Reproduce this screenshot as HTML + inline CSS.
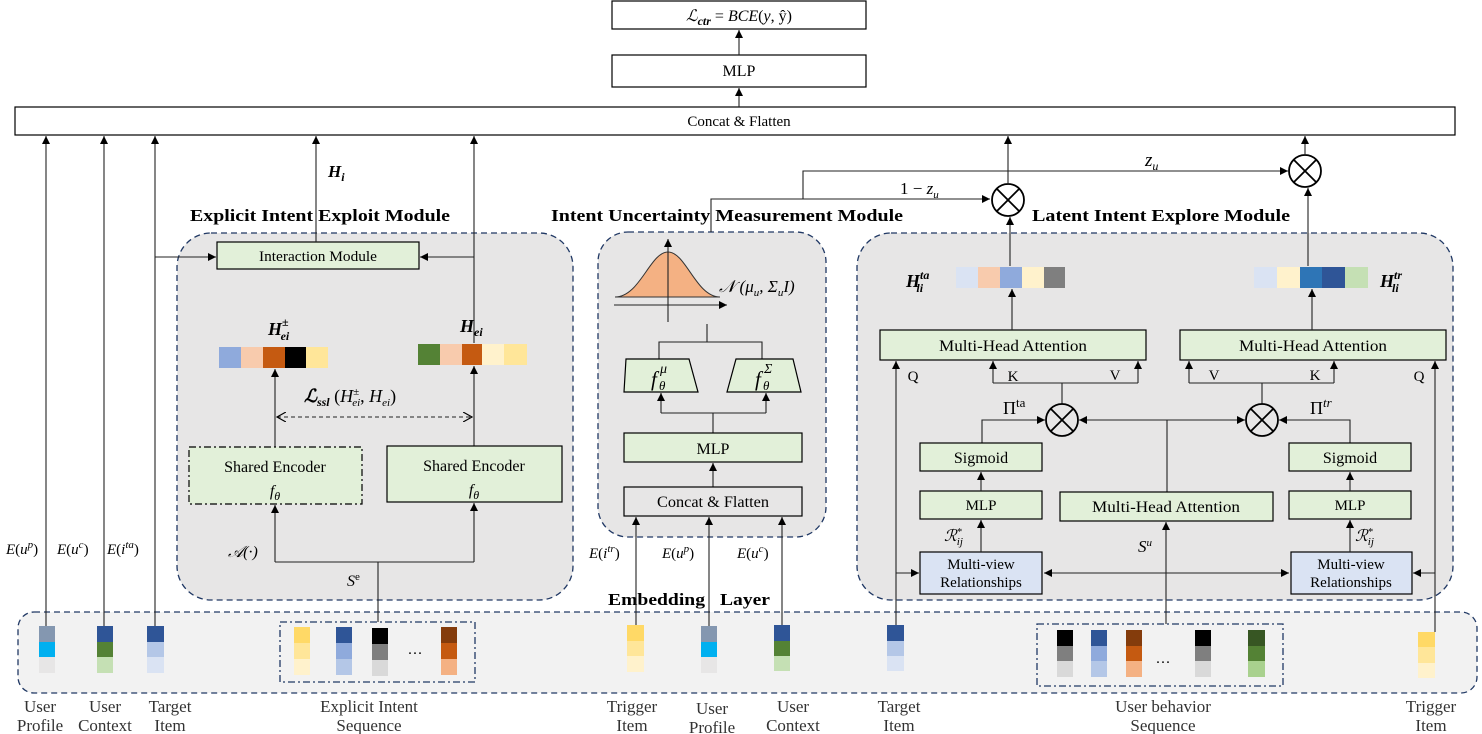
<!DOCTYPE html>
<html><head><meta charset="utf-8"><style>
html,body{margin:0;padding:0;background:#fff;}
svg{display:block;font-family:"Liberation Serif",serif;}
.b{fill:#e2f0d9;stroke:#000;stroke-width:1.2}
.w{fill:#fff;stroke:#000;stroke-width:1.2}
.l{stroke:#222;stroke-width:1.1;fill:none}
.mod{fill:#e7e6e6;stroke:#203864;stroke-width:1.3;stroke-dasharray:6 4}
.t{font-size:16px;text-anchor:middle}
.s{font-size:15px;text-anchor:middle}
.ti{font-size:17px;font-weight:bold}
.m{font-style:italic}
</style></head><body>
<svg width="1482" height="734" viewBox="0 0 1482 734" xmlns="http://www.w3.org/2000/svg">
<defs>
<marker id="a" markerWidth="8" markerHeight="8" refX="8" refY="4" orient="auto" markerUnits="userSpaceOnUse"><path d="M0,0 L8,4 L0,8 z" fill="#000"/></marker>
<marker id="as" markerWidth="8" markerHeight="8" refX="0" refY="4" orient="auto" markerUnits="userSpaceOnUse"><path d="M8,0 L0,4 L8,8 z" fill="#000"/></marker>
<marker id="o" markerWidth="10" markerHeight="10" refX="9" refY="5" orient="auto" markerUnits="userSpaceOnUse"><path d="M0,0 L9,5 L0,10" fill="none" stroke="#000" stroke-width="1.2"/></marker>
<marker id="os" markerWidth="10" markerHeight="10" refX="1" refY="5" orient="auto" markerUnits="userSpaceOnUse"><path d="M10,0 L1,5 L10,10" fill="none" stroke="#000" stroke-width="1.2"/></marker>
</defs>

<!-- top -->
<rect class="w" x="612" y="1" width="254" height="28"/>
<text x="739" y="21" class="t" font-size="17"><tspan class="m">ℒ</tspan><tspan class="m" font-weight="bold" font-size="12" dy="4">ctr</tspan><tspan dy="-4"> = </tspan><tspan class="m">BCE</tspan>(<tspan class="m">y</tspan>, <tspan>ŷ</tspan>)</text>
<rect class="w" x="612" y="55" width="254" height="32"/>
<text x="739" y="76" class="t">MLP</text>
<line class="l" x1="739" y1="55" x2="739" y2="30" marker-end="url(#a)"/>
<rect class="w" x="15" y="107" width="1440" height="28"/>
<text x="739" y="126" class="s">Concat &amp; Flatten</text>
<line class="l" x1="739" y1="107" x2="739" y2="88" marker-end="url(#a)"/>

<!-- embedding layer -->
<rect x="18" y="612" width="1459" height="81" rx="16" fill="#f2f2f2" stroke="#203864" stroke-width="1.3" stroke-dasharray="6 4"/>
<text x="608" y="605" class="ti" textLength="97" lengthAdjust="spacingAndGlyphs">Embedding</text>
<text x="720" y="605" class="ti" textLength="50" lengthAdjust="spacingAndGlyphs">Layer</text>

<!-- modules -->
<rect class="mod" x="177" y="233" width="396" height="367" rx="34"/>
<rect class="mod" x="598" y="232" width="228" height="305" rx="30"/>
<rect class="mod" x="857" y="233" width="596" height="367" rx="34"/>
<text x="190" y="221" class="ti" textLength="260" lengthAdjust="spacingAndGlyphs">Explicit Intent Exploit Module</text>
<text x="551" y="221" class="ti" textLength="352" lengthAdjust="spacingAndGlyphs">Intent Uncertainty Measurement Module</text>
<text x="1032" y="221" class="ti" textLength="258" lengthAdjust="spacingAndGlyphs">Latent Intent Explore Module</text>

<!-- long arrows to concat -->
<line class="l" x1="46" y1="626" x2="46" y2="136" marker-end="url(#a)"/>
<line class="l" x1="104" y1="626" x2="104" y2="136" marker-end="url(#a)"/>
<line class="l" x1="155" y1="626" x2="155" y2="136" marker-end="url(#a)"/>
<text x="6" y="554" font-size="15"><tspan class="m">E</tspan>(<tspan class="m">u</tspan><tspan class="m" font-size="11" dy="-6">p</tspan><tspan dy="6">)</tspan></text>
<text x="57" y="554" font-size="15"><tspan class="m">E</tspan>(<tspan class="m">u</tspan><tspan class="m" font-size="11" dy="-6">c</tspan><tspan dy="6">)</tspan></text>
<text x="107" y="554" font-size="15"><tspan class="m">E</tspan>(<tspan class="m">i</tspan><tspan class="m" font-size="11" dy="-6">ta</tspan><tspan dy="6">)</tspan></text>

<!-- explicit module -->
<rect class="b" x="217" y="242" width="202" height="27"/>
<text x="318" y="261" class="s" textLength="118" lengthAdjust="spacingAndGlyphs">Interaction Module</text>
<line class="l" x1="316" y1="242" x2="316" y2="136" marker-end="url(#a)"/>
<text x="328" y="177" font-size="17" font-weight="bold" class="m">H<tspan font-size="12" dy="4">i</tspan></text>
<polyline class="l" points="155,257 216,257" marker-end="url(#a)"/>
<line class="l" x1="474" y1="343" x2="474" y2="136" marker-end="url(#a)"/>
<line class="l" x1="474" y1="257" x2="420" y2="257" marker-end="url(#a)"/>
<text x="268" y="335" font-size="18" font-weight="bold" class="m">H<tspan font-size="12" dy="-9">±</tspan><tspan font-size="12" dx="-8" dy="14">ei</tspan></text>
<text x="460" y="332" font-size="18" font-weight="bold" class="m">H<tspan font-size="12" dy="4">ei</tspan></text>
<g>
<rect x="219" y="347" width="22" height="21" fill="#8faadc"/><rect x="241" y="347" width="22" height="21" fill="#f8cbad"/><rect x="263" y="347" width="22" height="21" fill="#c55a11"/><rect x="285" y="347" width="21" height="21" fill="#000"/><rect x="306" y="347" width="22" height="21" fill="#ffe699"/>
<rect x="418" y="344" width="22" height="21" fill="#548235"/><rect x="440" y="344" width="22" height="21" fill="#f8cbad"/><rect x="462" y="344" width="20" height="21" fill="#c55a11"/><rect x="482" y="344" width="22" height="21" fill="#fff2cc"/><rect x="504" y="344" width="23" height="21" fill="#ffe699"/>
</g>
<line class="l" x1="474" y1="446" x2="474" y2="366" marker-end="url(#a)"/>
<line class="l" x1="275" y1="447" x2="275" y2="369" marker-end="url(#a)"/>
<text x="304" y="402" font-size="18"><tspan class="m" font-weight="bold">ℒ</tspan><tspan class="m" font-weight="bold" font-size="12" dy="4">ssl</tspan><tspan dy="-4"> (</tspan><tspan class="m">H</tspan><tspan class="m" font-size="11" dy="-7">±</tspan><tspan class="m" font-size="11" dx="-7" dy="11">ei</tspan><tspan dy="-4">, </tspan><tspan class="m">H</tspan><tspan class="m" font-size="11" dy="4">ei</tspan><tspan dy="-4">)</tspan></text>
<line class="l" x1="277" y1="417" x2="472" y2="417" stroke-dasharray="4 3" marker-start="url(#os)" marker-end="url(#o)"/>
<rect class="b" x="189" y="447" width="173" height="57" stroke-dasharray="7 3 2 3"/>
<text x="275" y="472" class="t" font-size="19">Shared Encoder</text>
<text x="275" y="496" class="t m" font-size="19">f<tspan font-size="12" dy="4">θ</tspan></text>
<rect class="b" x="387" y="446" width="175" height="56"/>
<text x="474" y="471" class="t" font-size="19">Shared Encoder</text>
<text x="474" y="495" class="t m" font-size="19">f<tspan font-size="12" dy="4">θ</tspan></text>
<polyline class="l" points="275,562 474,562"/>
<line class="l" x1="275" y1="562" x2="275" y2="505" marker-end="url(#a)"/>
<line class="l" x1="474" y1="562" x2="474" y2="503" marker-end="url(#a)"/>
<line class="l" x1="378" y1="562" x2="378" y2="622"/>
<text x="228" y="557" font-size="16" class="m">𝒜(·)</text>
<text x="347" y="586" font-size="16"><tspan class="m">S</tspan><tspan font-size="11" dy="-6">e</tspan></text>

<!-- middle module -->
<path d="M615,297 C640,297 650,252 668,252 C686,252 696,297 720,297 Z" fill="#f4b183" stroke="#333" stroke-width="1"/>
<line class="l" x1="668" y1="322" x2="668" y2="239" marker-end="url(#a)"/>
<line class="l" x1="614" y1="305" x2="727" y2="305" marker-end="url(#a)"/>
<text x="719" y="292" font-size="17" class="m">𝒩 (μ<tspan font-size="11" dy="4">u</tspan><tspan dy="-4">, Σ</tspan><tspan font-size="11" dy="4">u</tspan><tspan dy="-4">I)</tspan></text>
<polyline class="l" points="707,324 707,342"/>
<polyline class="l" points="659,359 659,342 762,342 762,359"/>
<polygon class="b" points="626,359 689,359 698,392 624,392"/>
<polygon class="b" points="736,359 793,359 801,392 727,392"/>
<text x="651" y="386" font-size="21" class="m">f</text><text x="659" y="390" font-size="13" class="m">θ</text><text x="660" y="373" font-size="14" class="m">μ</text>
<text x="755" y="386" font-size="21" class="m">f</text><text x="763" y="390" font-size="13" class="m">θ</text><text x="764" y="373" font-size="14" class="m">Σ</text>
<polyline class="l" points="661,413 766,413"/>
<line class="l" x1="661" y1="413" x2="661" y2="393" marker-end="url(#a)"/>
<line class="l" x1="766" y1="413" x2="766" y2="393" marker-end="url(#a)"/>
<line class="l" x1="713" y1="433" x2="713" y2="413"/>
<rect class="b" x="624" y="433" width="178" height="29"/>
<text x="713" y="454" class="t" font-size="17">MLP</text>
<line class="l" x1="713" y1="487" x2="713" y2="463" marker-end="url(#a)"/>
<rect x="624" y="487" width="178" height="29" fill="#e7e6e6" stroke="#000" stroke-width="1.2"/>
<text x="713" y="507" class="t" textLength="112" lengthAdjust="spacingAndGlyphs">Concat &amp; Flatten</text>
<line class="l" x1="636" y1="626" x2="636" y2="517" marker-end="url(#a)"/>
<line class="l" x1="709" y1="626" x2="709" y2="517" marker-end="url(#a)"/>
<line class="l" x1="782" y1="626" x2="782" y2="517" marker-end="url(#a)"/>
<text x="589" y="558" font-size="15"><tspan class="m">E</tspan>(<tspan class="m">i</tspan><tspan class="m" font-size="11" dy="-6">tr</tspan><tspan dy="6">)</tspan></text>
<text x="662" y="558" font-size="15"><tspan class="m">E</tspan>(<tspan class="m">u</tspan><tspan class="m" font-size="11" dy="-6">p</tspan><tspan dy="6">)</tspan></text>
<text x="737" y="558" font-size="15"><tspan class="m">E</tspan>(<tspan class="m">u</tspan><tspan class="m" font-size="11" dy="-6">c</tspan><tspan dy="6">)</tspan></text>

<!-- gates -->
<polyline class="l" points="711,232 711,199 990,199" marker-end="url(#a)"/>
<polyline class="l" points="803,199 803,171 1288,171" marker-end="url(#a)"/>
<text x="900" y="194" font-size="17">1 − <tspan class="m">z</tspan><tspan class="m" font-size="11" dy="4">u</tspan></text>
<text x="1145" y="166" font-size="19" class="m">z<tspan font-size="12" dy="4">u</tspan></text>
<g stroke="#000" stroke-width="1.8" fill="#fff">
<circle cx="1008" cy="200" r="16"/><line x1="997" y1="189" x2="1019" y2="211"/><line x1="1019" y1="189" x2="997" y2="211"/>
<circle cx="1305" cy="171" r="16"/><line x1="1294" y1="160" x2="1316" y2="182"/><line x1="1316" y1="160" x2="1294" y2="182"/>
</g>
<line class="l" x1="1008" y1="184" x2="1008" y2="136" marker-end="url(#a)"/>
<line class="l" x1="1305" y1="155" x2="1305" y2="136" marker-end="url(#a)"/>
<line class="l" x1="1010" y1="266" x2="1010" y2="217" marker-end="url(#a)"/>
<line class="l" x1="1308" y1="266" x2="1308" y2="188" marker-end="url(#a)"/>

<!-- latent module -->
<text x="906" y="287" font-size="18" font-weight="bold" class="m">H<tspan font-size="12" dy="-8">ta</tspan><tspan font-size="12" dx="-13" dy="13">li</tspan></text>
<text x="1380" y="287" font-size="18" font-weight="bold" class="m">H<tspan font-size="12" dy="-8">tr</tspan><tspan font-size="12" dx="-10" dy="13">li</tspan></text>
<rect x="956" y="267" width="22" height="21" fill="#dae3f3"/><rect x="978" y="267" width="22" height="21" fill="#f8cbad"/><rect x="1000" y="267" width="22" height="21" fill="#8faadc"/><rect x="1022" y="267" width="22" height="21" fill="#fff2cc"/><rect x="1044" y="267" width="21" height="21" fill="#7f7f7f"/>
<rect x="1254" y="267" width="23" height="21" fill="#dae3f3"/><rect x="1277" y="267" width="23" height="21" fill="#fff2cc"/><rect x="1300" y="267" width="22" height="21" fill="#2e75b6"/><rect x="1322" y="267" width="23" height="21" fill="#2f5597"/><rect x="1345" y="267" width="23" height="21" fill="#c5e0b4"/>
<rect class="b" x="880" y="330" width="266" height="30"/>
<text x="1013" y="351" class="t" textLength="148" lengthAdjust="spacingAndGlyphs">Multi-Head Attention</text>
<rect class="b" x="1180" y="330" width="266" height="30"/>
<text x="1313" y="351" class="t" textLength="148" lengthAdjust="spacingAndGlyphs">Multi-Head Attention</text>
<line class="l" x1="1012" y1="330" x2="1012" y2="289" marker-end="url(#a)"/>
<line class="l" x1="1312" y1="330" x2="1312" y2="289" marker-end="url(#a)"/>
<!-- K V -->
<polyline class="l" points="993,383 1138,383"/>
<line class="l" x1="993" y1="383" x2="993" y2="361" marker-end="url(#a)"/>
<line class="l" x1="1138" y1="383" x2="1138" y2="361" marker-end="url(#a)"/>
<line class="l" x1="1062" y1="383" x2="1062" y2="404"/>
<polyline class="l" points="1189,383 1334,383"/>
<line class="l" x1="1189" y1="383" x2="1189" y2="361" marker-end="url(#a)"/>
<line class="l" x1="1334" y1="383" x2="1334" y2="361" marker-end="url(#a)"/>
<line class="l" x1="1262" y1="383" x2="1262" y2="404"/>
<text x="1013" y="381" class="s" font-size="16">K</text>
<text x="1115" y="380" class="s" font-size="16">V</text>
<text x="1214" y="380" class="s" font-size="16">V</text>
<text x="1315" y="380" class="s" font-size="16">K</text>
<text x="913" y="381" class="s" font-size="16">Q</text>
<text x="1419" y="381" class="s" font-size="16">Q</text>
<line class="l" x1="896" y1="626" x2="896" y2="361" marker-end="url(#a)"/>
<line class="l" x1="1435" y1="632" x2="1435" y2="361" marker-end="url(#a)"/>
<g stroke="#000" stroke-width="1.8" fill="none">
<circle cx="1062" cy="420" r="16"/><line x1="1051" y1="409" x2="1073" y2="431"/><line x1="1073" y1="409" x2="1051" y2="431"/>
<circle cx="1262" cy="420" r="16"/><line x1="1251" y1="409" x2="1273" y2="431"/><line x1="1273" y1="409" x2="1251" y2="431"/>
</g>
<polyline class="l" points="982,443 982,420 1045,420" marker-end="url(#a)"/>
<polyline class="l" points="1350,443 1350,420 1279,420" marker-end="url(#a)"/>
<line class="l" x1="1079" y1="420" x2="1245" y2="420" marker-start="url(#as)" marker-end="url(#a)"/>
<line class="l" x1="1167" y1="420" x2="1167" y2="492"/>
<text x="1003" y="414" font-size="18">Π<tspan font-size="13" dy="-7">ta</tspan></text>
<text x="1310" y="414" font-size="18">Π<tspan font-size="13" dy="-7" class="m">tr</tspan></text>
<rect class="b" x="920" y="443" width="122" height="28"/>
<text x="981" y="463" class="t" font-size="17">Sigmoid</text>
<rect class="b" x="920" y="491" width="122" height="28"/>
<text x="981" y="510" class="s">MLP</text>
<rect x="920" y="552" width="122" height="42" fill="#dae3f3" stroke="#000" stroke-width="1.2"/>
<text x="981" y="569" class="s" font-size="13">Multi-view</text>
<text x="981" y="587" class="s" font-size="13">Relationships</text>
<rect class="b" x="1289" y="443" width="122" height="28"/>
<text x="1350" y="463" class="t" font-size="17">Sigmoid</text>
<rect class="b" x="1289" y="491" width="122" height="28"/>
<text x="1350" y="510" class="s">MLP</text>
<rect x="1291" y="552" width="121" height="42" fill="#dae3f3" stroke="#000" stroke-width="1.2"/>
<text x="1351" y="569" class="s" font-size="13">Multi-view</text>
<text x="1351" y="587" class="s" font-size="13">Relationships</text>
<line class="l" x1="981" y1="491" x2="981" y2="472" marker-end="url(#a)"/>
<line class="l" x1="981" y1="552" x2="981" y2="520" marker-end="url(#a)"/>
<line class="l" x1="1350" y1="491" x2="1350" y2="472" marker-end="url(#a)"/>
<line class="l" x1="1350" y1="552" x2="1350" y2="520" marker-end="url(#a)"/>
<rect class="b" x="1060" y="492" width="213" height="29"/>
<text x="1166" y="512" class="t" textLength="148" lengthAdjust="spacingAndGlyphs">Multi-Head Attention</text>
<line class="l" x1="1166" y1="624" x2="1166" y2="522" marker-end="url(#a)"/>
<text x="1138" y="552" font-size="17" class="m">S<tspan font-size="11" dy="-6">u</tspan></text>
<text x="944" y="541" font-size="16" class="m">ℛ<tspan font-size="10" dy="-6">*</tspan><tspan font-size="11" dx="-5" dy="10">ij</tspan></text>
<text x="1355" y="541" font-size="16" class="m">ℛ<tspan font-size="10" dy="-6">*</tspan><tspan font-size="11" dx="-5" dy="10">ij</tspan></text>
<line class="l" x1="1044" y1="573" x2="1289" y2="573" marker-start="url(#as)" marker-end="url(#a)"/>
<line class="l" x1="896" y1="573" x2="919" y2="573" marker-end="url(#a)"/>
<line class="l" x1="1435" y1="573" x2="1413" y2="573" marker-end="url(#a)"/>

<!-- embedding vectors -->
<g>
<rect x="39" y="626" width="16" height="16" fill="#8497b0"/><rect x="39" y="642" width="16" height="15" fill="#00b0f0"/><rect x="39" y="657" width="16" height="16" fill="#e7e6e6"/>
<rect x="97" y="626" width="16" height="16" fill="#2f5597"/><rect x="97" y="642" width="16" height="15" fill="#548235"/><rect x="97" y="657" width="16" height="16" fill="#c5e0b4"/>
<rect x="147" y="626" width="17" height="16" fill="#2f5597"/><rect x="147" y="642" width="17" height="15" fill="#b4c7e7"/><rect x="147" y="657" width="17" height="16" fill="#dae3f3"/>
<rect x="280" y="622" width="195" height="60" fill="none" stroke="#203864" stroke-width="1.3" stroke-dasharray="7 3 2 3"/>
<rect x="294" y="627" width="16" height="16" fill="#ffd966"/><rect x="294" y="643" width="16" height="16" fill="#ffe699"/><rect x="294" y="659" width="16" height="16" fill="#fff2cc"/>
<rect x="336" y="627" width="16" height="16" fill="#2f5597"/><rect x="336" y="643" width="16" height="16" fill="#8faadc"/><rect x="336" y="659" width="16" height="16" fill="#b4c7e7"/>
<rect x="372" y="628" width="16" height="16" fill="#000"/><rect x="372" y="644" width="16" height="16" fill="#7f7f7f"/><rect x="372" y="660" width="16" height="16" fill="#d9d9d9"/>
<text x="415" y="658" class="s">···</text>
<rect x="441" y="627" width="16" height="16" fill="#843c0c"/><rect x="441" y="643" width="16" height="16" fill="#c55a11"/><rect x="441" y="659" width="16" height="16" fill="#f4b183"/>
<rect x="627" y="625" width="17" height="16" fill="#ffd966"/><rect x="627" y="641" width="17" height="15" fill="#ffe699"/><rect x="627" y="656" width="17" height="16" fill="#fff2cc"/>
<rect x="701" y="626" width="16" height="16" fill="#8497b0"/><rect x="701" y="642" width="16" height="15" fill="#00b0f0"/><rect x="701" y="657" width="16" height="16" fill="#e7e6e6"/>
<rect x="774" y="625" width="16" height="16" fill="#2f5597"/><rect x="774" y="641" width="16" height="15" fill="#548235"/><rect x="774" y="656" width="16" height="15" fill="#c5e0b4"/>
<rect x="887" y="625" width="17" height="16" fill="#2f5597"/><rect x="887" y="641" width="17" height="15" fill="#b4c7e7"/><rect x="887" y="656" width="17" height="15" fill="#dae3f3"/>
<rect x="1037" y="624" width="246" height="62" fill="none" stroke="#203864" stroke-width="1.3" stroke-dasharray="7 3 2 3"/>
<rect x="1057" y="630" width="16" height="16" fill="#000"/><rect x="1057" y="646" width="16" height="15" fill="#7f7f7f"/><rect x="1057" y="661" width="16" height="16" fill="#d9d9d9"/>
<rect x="1091" y="630" width="16" height="16" fill="#2f5597"/><rect x="1091" y="646" width="16" height="15" fill="#8faadc"/><rect x="1091" y="661" width="16" height="16" fill="#b4c7e7"/>
<rect x="1126" y="630" width="16" height="16" fill="#843c0c"/><rect x="1126" y="646" width="16" height="15" fill="#c55a11"/><rect x="1126" y="661" width="16" height="16" fill="#f4b183"/>
<text x="1163" y="667" class="s">···</text>
<rect x="1195" y="630" width="16" height="16" fill="#000"/><rect x="1195" y="646" width="16" height="15" fill="#7f7f7f"/><rect x="1195" y="661" width="16" height="16" fill="#d9d9d9"/>
<rect x="1248" y="630" width="17" height="16" fill="#375623"/><rect x="1248" y="646" width="17" height="15" fill="#548235"/><rect x="1248" y="661" width="17" height="16" fill="#a9d18e"/>
<rect x="1418" y="632" width="17" height="15" fill="#ffd966"/><rect x="1418" y="647" width="17" height="16" fill="#ffe699"/><rect x="1418" y="663" width="17" height="15" fill="#fff2cc"/>
</g>

<!-- bottom labels -->
<g font-size="17" text-anchor="middle" fill="#333">
<text x="40" y="712">User</text><text x="40" y="731">Profile</text>
<text x="105" y="712">User</text><text x="105" y="731">Context</text>
<text x="170" y="712">Target</text><text x="170" y="731">Item</text>
<text x="369" y="712">Explicit Intent</text><text x="369" y="731">Sequence</text>
<text x="632" y="712">Trigger</text><text x="632" y="731">Item</text>
<text x="712" y="714">User</text><text x="712" y="733">Profile</text>
<text x="793" y="712">User</text><text x="793" y="731">Context</text>
<text x="899" y="712">Target</text><text x="899" y="731">Item</text>
<text x="1163" y="712">User behavior</text><text x="1163" y="731">Sequence</text>
<text x="1431" y="712">Trigger</text><text x="1431" y="731">Item</text>
</g>
</svg>
</body></html>
